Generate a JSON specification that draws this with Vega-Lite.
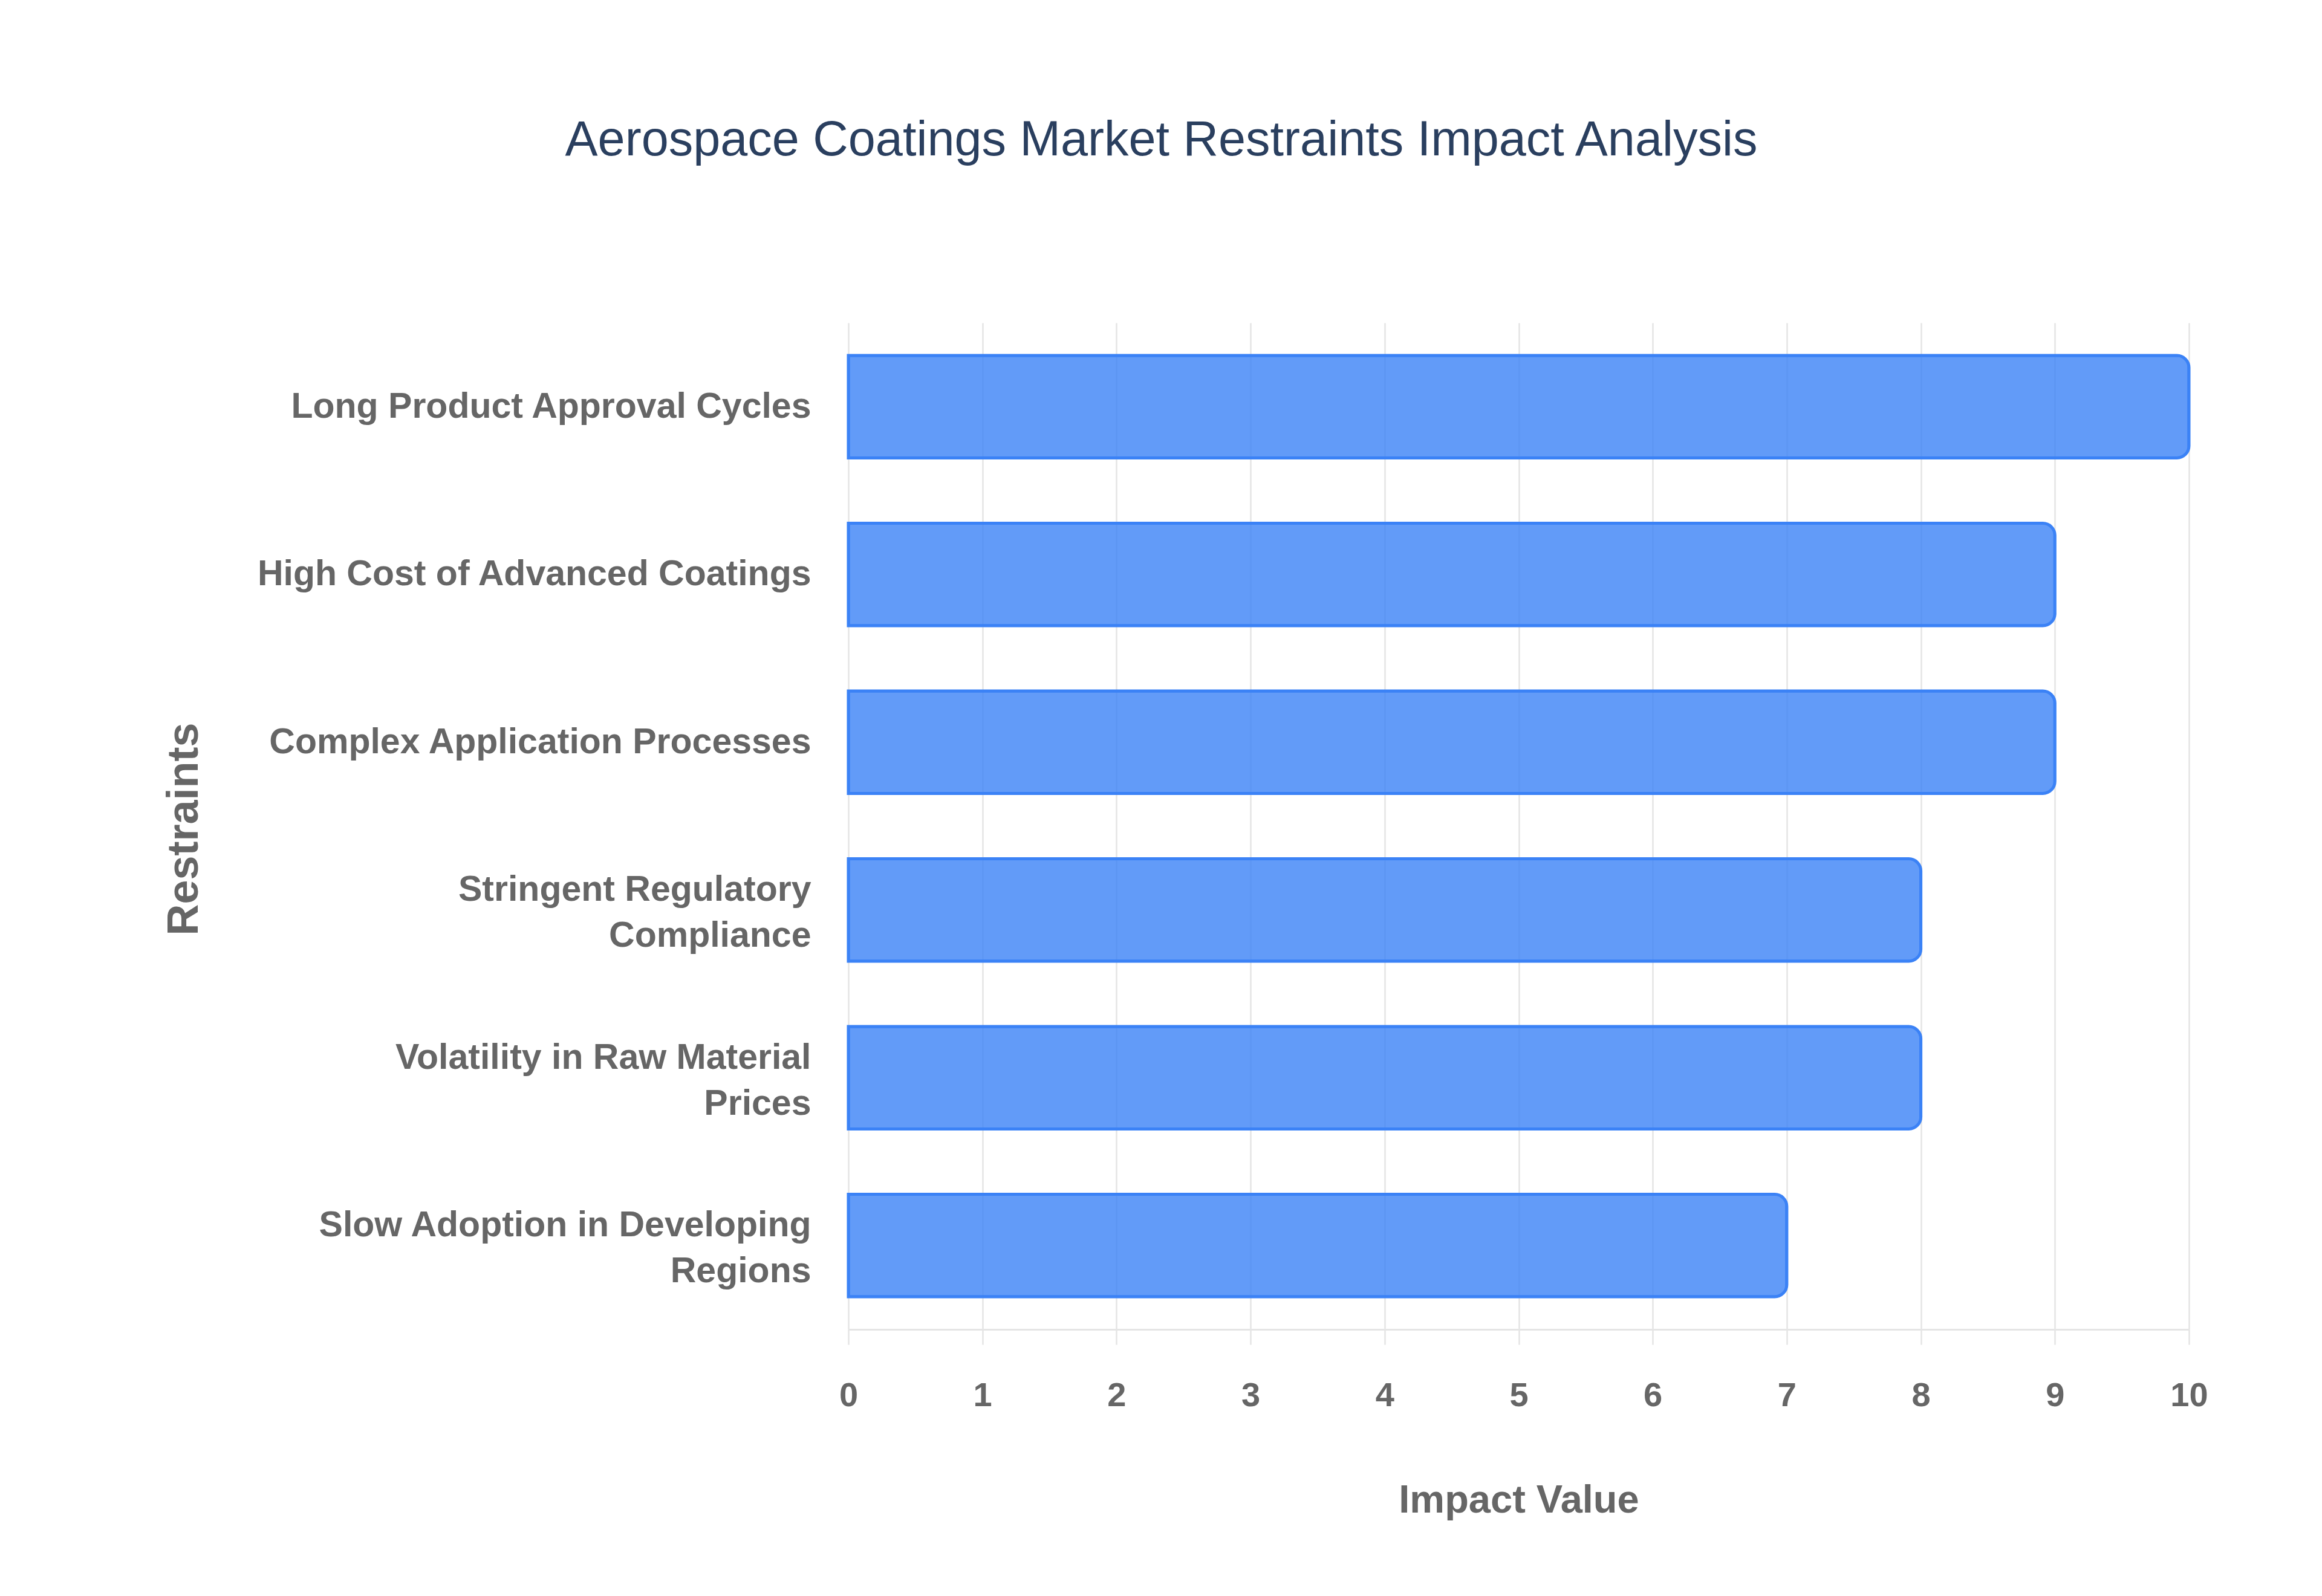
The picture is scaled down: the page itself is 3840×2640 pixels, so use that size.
{
  "$schema": "https://vega.github.io/schema/vega-lite/v6.json",
  "width": 2217,
  "height": 1665,
  "autosize": {"type": "none"},
  "padding": {"left": 1403, "top": 534, "right": 220, "bottom": 441},
  "background": "white",
  "title": {
    "text": "Aerospace Coatings Market Restraints Impact Analysis",
    "font": "Liberation Sans",
    "fontSize": 81,
    "fontWeight": "normal",
    "color": "#2a3f5f",
    "anchor": "middle",
    "dx": -591,
    "offset": 260
  },
  "data": {
    "values": [
      {"restraint": "Long Product Approval Cycles", "impact": 10},
      {"restraint": "High Cost of Advanced Coatings", "impact": 9},
      {"restraint": "Complex Application Processes", "impact": 9},
      {"restraint": "Stringent Regulatory Compliance", "impact": 8},
      {"restraint": "Volatility in Raw Material Prices", "impact": 8},
      {"restraint": "Slow Adoption in Developing Regions", "impact": 7}
    ]
  },
  "mark": {
    "type": "bar",
    "color": "#3b82f6",
    "fillOpacity": 0.8,
    "stroke": "#3b82f6",
    "strokeWidth": 5,
    "cornerRadiusEnd": 20
  },
  "encoding": {
    "y": {
      "field": "restraint",
      "type": "nominal",
      "sort": null,
      "title": "Restraints",
      "scale": {"paddingInner": 0.39, "paddingOuter": 0.195},
      "axis": {
        "domain": false,
        "ticks": false,
        "grid": false,
        "labelFont": "Liberation Sans",
        "labelFontWeight": "bold",
        "labelFontSize": 59,
        "labelColor": "#666666",
        "labelPadding": 62,
        "labelLineHeight": 76,
        "labelLimit": 1400,
        "labelOffset": {
          "condition": {
            "test": "indexof(['Stringent Regulatory Compliance', 'Volatility in Raw Material Prices', 'Slow Adoption in Developing Regions'], datum.value) >= 0",
            "value": -33
          },
          "value": 0
        },
        "labelExpr": "datum.label == 'Stringent Regulatory Compliance' ? ['Stringent Regulatory', 'Compliance'] : datum.label == 'Volatility in Raw Material Prices' ? ['Volatility in Raw Material', 'Prices'] : datum.label == 'Slow Adoption in Developing Regions' ? ['Slow Adoption in Developing', 'Regions'] : datum.label",
        "titleFont": "Liberation Sans",
        "titleFontWeight": "bold",
        "titleFontSize": 72,
        "titleColor": "#666666",
        "titleX": -1099,
        "titleY": 837,
        "titleBaseline": "middle",
        "titleAlign": "center",
        "titleAngle": 270
      }
    },
    "x": {
      "field": "impact",
      "type": "quantitative",
      "title": "Impact Value",
      "scale": {"domain": [0, 10], "nice": false},
      "axis": {
        "values": [0, 1, 2, 3, 4, 5, 6, 7, 8, 9, 10],
        "grid": true,
        "gridColor": "#e5e5e5",
        "gridWidth": 2.5,
        "ticks": true,
        "tickColor": "#e5e5e5",
        "tickSize": 25,
        "tickWidth": 2.5,
        "domain": true,
        "domainColor": "#e5e5e5",
        "domainWidth": 3,
        "labelFlush": false,
        "labelFont": "Liberation Sans",
        "labelFontWeight": "bold",
        "labelFontSize": 56,
        "labelColor": "#666666",
        "labelPadding": 57,
        "titleFont": "Liberation Sans",
        "titleFontWeight": "bold",
        "titleFontSize": 65,
        "titleColor": "#666666",
        "titlePadding": 114
      }
    }
  },
  "config": {"view": {"stroke": null}}
}
